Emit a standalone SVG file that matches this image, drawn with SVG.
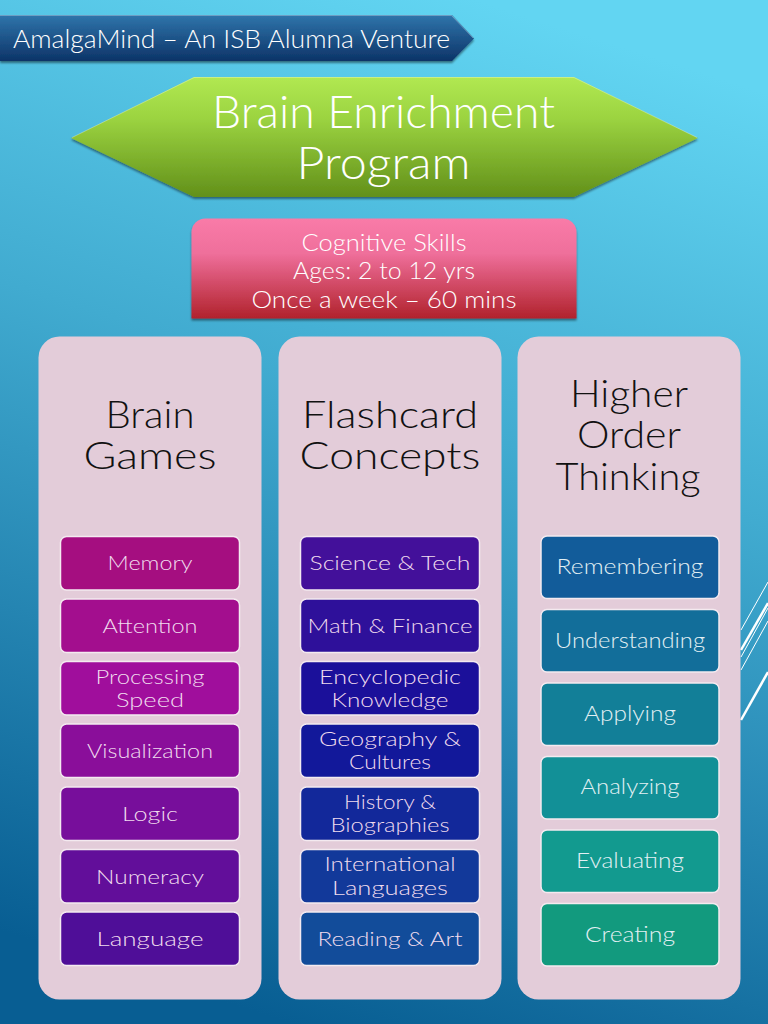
<svg xmlns="http://www.w3.org/2000/svg" width="768" height="1024" viewBox="0 0 768 1024">
<defs>
<linearGradient id="bg" x1="0.62" y1="0" x2="0.38" y2="1"><stop offset="0" stop-color="#62d5f2"/><stop offset="0.4" stop-color="#41abd0"/><stop offset="1" stop-color="#085e93"/></linearGradient>
<linearGradient id="blue" x1="0" y1="0" x2="0" y2="1"><stop offset="0" stop-color="#2f75ab"/><stop offset="1" stop-color="#0d3468"/></linearGradient>
<linearGradient id="green" x1="0" y1="0" x2="0" y2="1"><stop offset="0" stop-color="#b1e852"/><stop offset="0.35" stop-color="#9bd340"/><stop offset="1" stop-color="#62901a"/></linearGradient>
<linearGradient id="red" x1="0" y1="0" x2="0" y2="1"><stop offset="0" stop-color="#f97ba8"/><stop offset="0.35" stop-color="#ef6f9b"/><stop offset="1" stop-color="#b1222c"/></linearGradient>
<filter id="sh" x="-5%" y="-10%" width="110%" height="125%"><feDropShadow dx="0" dy="2" stdDeviation="1.200" flood-color="#000" flood-opacity="0.45"/></filter>
</defs>
<style>
text{font-family:"Lato","Open Sans","Liberation Sans",sans-serif;font-weight:300;text-anchor:middle;fill:#fff}
.panel{fill:#e3ccd9}
.h{fill:#111;font-size:37px}
.b{stroke:#f4eaf0;stroke-width:1.5}
.t{font-size:20.500px;fill:#f0dcee}
.t2{font-size:21.500px;fill:#e2f0f4}
.top{font-size:23px;fill:#fff}
.deco{stroke:#fff;fill:none}
.edge{fill:none;stroke:#fff;stroke-opacity:0.3;stroke-width:1}
</style>
<rect id="background" width="768" height="1024" fill="url(#bg)"/>
<g id="decoration" class="deco">
<line x1="741" y1="630" x2="768" y2="582" stroke-width="1"/>
<line x1="741" y1="650" x2="768" y2="603" stroke-width="2.500"/>
<line x1="741" y1="657" x2="768" y2="608" stroke-width="1"/>
<line x1="741" y1="670" x2="768" y2="621" stroke-width="1"/>
<line x1="741" y1="720" x2="768" y2="672" stroke-width="2.500"/>
</g>
<g id="connectors"/>
<g id="header"><path d="M0 15H452L474 38.500L452 61H0Z" fill="url(#blue)" filter="url(#sh)"/><path class="edge" d="M0 15.500H451.500L473 38"/><text x="231.500" y="47.500" font-size="24.500" textLength="437" lengthAdjust="spacingAndGlyphs">AmalgaMind – An ISB Alumna Venture</text></g>
<g id="title"><path d="M71 138L194 77H574L698 138L574 197H194Z" fill="url(#green)" filter="url(#sh)"/><path class="edge" d="M72 137.500L194 77.500H574L697 137.500"/>
<text x="383.500" y="128" font-size="45" textLength="343" lengthAdjust="spacingAndGlyphs">Brain Enrichment</text>
<text x="383.500" y="179" font-size="45" textLength="174" lengthAdjust="spacingAndGlyphs">Program</text></g>
<g id="info"><path d="M191.500 318.500V232.500A14 14 0 0 1 205.500 218.500H562.500A14 14 0 0 1 576.500 232.500V318.500Z" fill="url(#red)" filter="url(#sh)"/>
<text x="384" y="251" class="top" textLength="165" lengthAdjust="spacingAndGlyphs">Cognitive Skills</text>
<text x="384" y="279" class="top" textLength="182" lengthAdjust="spacingAndGlyphs">Ages: 2 to 12 yrs</text>
<text x="384" y="308" class="top" textLength="265" lengthAdjust="spacingAndGlyphs">Once a week – 60 mins</text></g>
<g id="panel-brain-games"><rect class="panel" x="38.500" y="336.500" width="223" height="663" rx="21"/>
<text class="h" x="150" y="428" textLength="89" lengthAdjust="spacingAndGlyphs">Brain</text><text class="h" x="150" y="469" textLength="133" lengthAdjust="spacingAndGlyphs">Games</text></g>
<g id="panel-flashcard"><rect class="panel" x="278.500" y="336.500" width="223" height="663" rx="21"/>
<text class="h" x="390" y="428" textLength="176" lengthAdjust="spacingAndGlyphs">Flashcard</text><text class="h" x="390" y="469" textLength="181" lengthAdjust="spacingAndGlyphs">Concepts</text></g>
<g id="panel-higher-order"><rect class="panel" x="517.500" y="336.500" width="223" height="663" rx="21"/>
<text class="h" x="629" y="407" textLength="118" lengthAdjust="spacingAndGlyphs">Higher</text><text class="h" x="629" y="448" textLength="104" lengthAdjust="spacingAndGlyphs">Order</text><text class="h" x="628" y="490" textLength="145" lengthAdjust="spacingAndGlyphs">Thinking</text></g>
<g id="memory"><rect class="b" x="60.500" y="536.500" width="179" height="53.500" rx="6" fill="#a50e80"/><text class="t" x="150" y="570" textLength="85" lengthAdjust="spacingAndGlyphs">Memory</text></g>
<g id="attention"><rect class="b" x="60.500" y="599" width="179" height="53.500" rx="6" fill="#a30e8e"/><text class="t" x="150" y="632.500" textLength="95" lengthAdjust="spacingAndGlyphs">Attention</text></g>
<g id="processing-speed"><rect class="b" x="60.500" y="661.500" width="179" height="53.500" rx="6" fill="#a00e9c"/><text class="t" x="150" y="684" textLength="109" lengthAdjust="spacingAndGlyphs">Processing</text><text class="t" x="150" y="707" textLength="68" lengthAdjust="spacingAndGlyphs">Speed</text></g>
<g id="visualization"><rect class="b" x="60.500" y="724" width="179" height="53.500" rx="6" fill="#8a0e9a"/><text class="t" x="150" y="758" textLength="126" lengthAdjust="spacingAndGlyphs">Visualization</text></g>
<g id="logic"><rect class="b" x="60.500" y="787" width="179" height="53.500" rx="6" fill="#770e9b"/><text class="t" x="150" y="820.500" textLength="56" lengthAdjust="spacingAndGlyphs">Logic</text></g>
<g id="numeracy"><rect class="b" x="60.500" y="849.500" width="179" height="53.500" rx="6" fill="#620e9a"/><text class="t" x="150" y="883.500" textLength="108" lengthAdjust="spacingAndGlyphs">Numeracy</text></g>
<g id="language"><rect class="b" x="60.500" y="912" width="179" height="53.500" rx="6" fill="#4f0e98"/><text class="t" x="150" y="946" textLength="107" lengthAdjust="spacingAndGlyphs">Language</text></g>
<g id="science-tech"><rect class="b" x="300.500" y="536.500" width="179" height="53.500" rx="6" fill="#43109a"/><text class="t" x="390" y="570" textLength="161" lengthAdjust="spacingAndGlyphs">Science &amp; Tech</text></g>
<g id="math-finance"><rect class="b" x="300.500" y="599" width="179" height="53.500" rx="6" fill="#2e109a"/><text class="t" x="390" y="632.500" textLength="165" lengthAdjust="spacingAndGlyphs">Math &amp; Finance</text></g>
<g id="encyclopedic"><rect class="b" x="300.500" y="661.500" width="179" height="53.500" rx="6" fill="#1b109a"/><text class="t" x="390" y="684" textLength="142" lengthAdjust="spacingAndGlyphs">Encyclopedic</text><text class="t" x="390" y="707" textLength="117" lengthAdjust="spacingAndGlyphs">Knowledge</text></g>
<g id="geography"><rect class="b" x="300.500" y="724" width="179" height="53.500" rx="6" fill="#12189a"/><text class="t" x="390" y="746" textLength="142" lengthAdjust="spacingAndGlyphs">Geography &amp;</text><text class="t" x="390" y="769" textLength="82" lengthAdjust="spacingAndGlyphs">Cultures</text></g>
<g id="history"><rect class="b" x="300.500" y="787" width="179" height="53.500" rx="6" fill="#12289a"/><text class="t" x="390" y="809" textLength="92" lengthAdjust="spacingAndGlyphs">History &amp;</text><text class="t" x="390" y="832" textLength="119" lengthAdjust="spacingAndGlyphs">Biographies</text></g>
<g id="international"><rect class="b" x="300.500" y="849.500" width="179" height="53.500" rx="6" fill="#12399a"/><text class="t" x="390" y="871" textLength="131" lengthAdjust="spacingAndGlyphs">International</text><text class="t" x="390" y="895" textLength="116" lengthAdjust="spacingAndGlyphs">Languages</text></g>
<g id="reading-art"><rect class="b" x="300.500" y="912" width="179" height="53.500" rx="6" fill="#124c9a"/><text class="t" x="390" y="946" textLength="145" lengthAdjust="spacingAndGlyphs">Reading &amp; Art</text></g>
<g id="remembering"><rect class="b" x="541" y="536" width="178" height="62.500" rx="6" fill="#125c9a"/><text class="t2" x="630" y="574" textLength="147" lengthAdjust="spacingAndGlyphs">Remembering</text></g>
<g id="understanding"><rect class="b" x="541" y="609.500" width="178" height="62.500" rx="6" fill="#126e9a"/><text class="t2" x="630" y="648" textLength="150" lengthAdjust="spacingAndGlyphs">Understanding</text></g>
<g id="applying"><rect class="b" x="541" y="683" width="178" height="62.500" rx="6" fill="#127f98"/><text class="t2" x="630" y="721" textLength="92" lengthAdjust="spacingAndGlyphs">Applying</text></g>
<g id="analyzing"><rect class="b" x="541" y="756.500" width="178" height="62.500" rx="6" fill="#129097"/><text class="t2" x="630" y="794" textLength="99" lengthAdjust="spacingAndGlyphs">Analyzing</text></g>
<g id="evaluating"><rect class="b" x="541" y="830" width="178" height="62.500" rx="6" fill="#129a8f"/><text class="t2" x="630" y="868" textLength="108" lengthAdjust="spacingAndGlyphs">Evaluating</text></g>
<g id="creating"><rect class="b" x="541" y="903.500" width="178" height="62.500" rx="6" fill="#129a7e"/><text class="t2" x="630" y="941.500" textLength="90" lengthAdjust="spacingAndGlyphs">Creating</text></g>
</svg>
